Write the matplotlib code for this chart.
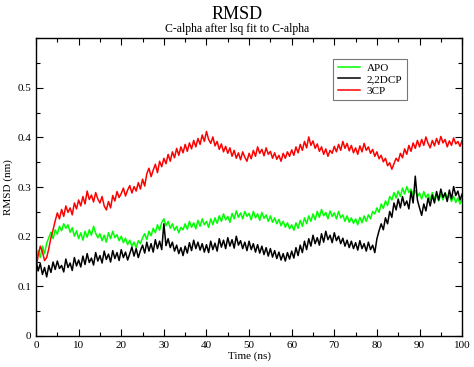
import numpy as np
import matplotlib
matplotlib.use("Agg")
import matplotlib.pyplot as plt
from matplotlib.ticker import MultipleLocator

# time axis, one sample every 0.5 ns
time_ns = np.arange(0, 100.5, 0.5)

# 3CP
rmsd_3cp = [
    0.138, 0.162, 0.181, 0.170, 0.152, 0.158, 0.176, 0.198, 0.214, 0.232,
    0.248, 0.236, 0.255, 0.241, 0.262, 0.249, 0.258, 0.244, 0.268, 0.256,
    0.274, 0.262, 0.281, 0.266, 0.292, 0.275, 0.284, 0.270, 0.289, 0.276,
    0.268, 0.281, 0.262, 0.254, 0.271, 0.258, 0.283, 0.272, 0.291, 0.279,
    0.287, 0.298, 0.282, 0.294, 0.303, 0.288, 0.301, 0.292, 0.309, 0.296,
    0.316, 0.302, 0.327, 0.338, 0.321, 0.334, 0.346, 0.329, 0.352, 0.341,
    0.358, 0.347, 0.366, 0.352, 0.371, 0.359, 0.378, 0.364, 0.381, 0.369,
    0.386, 0.372, 0.389, 0.377, 0.394, 0.381, 0.398, 0.386, 0.405, 0.392,
    0.412, 0.396, 0.388, 0.401, 0.383, 0.392, 0.376, 0.387, 0.371, 0.382,
    0.368, 0.379, 0.362, 0.374, 0.358, 0.369, 0.355, 0.371, 0.360, 0.352,
    0.368, 0.357, 0.374, 0.362, 0.381, 0.368, 0.376, 0.363, 0.379, 0.366,
    0.372, 0.358, 0.369, 0.356, 0.364, 0.352, 0.368, 0.358, 0.371, 0.362,
    0.375, 0.364, 0.381, 0.369, 0.386, 0.374, 0.392, 0.379, 0.401, 0.384,
    0.393, 0.378, 0.387, 0.372, 0.381, 0.366, 0.377, 0.362, 0.374, 0.368,
    0.382, 0.371, 0.386, 0.374, 0.392, 0.378, 0.388, 0.373, 0.384, 0.369,
    0.379, 0.366, 0.383, 0.371, 0.388, 0.374, 0.381, 0.368, 0.376, 0.362,
    0.371, 0.357, 0.364, 0.351, 0.358, 0.343, 0.349, 0.336, 0.347, 0.358,
    0.352, 0.368, 0.359, 0.377, 0.366, 0.384, 0.372, 0.389, 0.378, 0.394,
    0.381, 0.396, 0.384, 0.401, 0.388, 0.379, 0.394, 0.383, 0.398, 0.386,
    0.402, 0.389, 0.396, 0.381, 0.393, 0.384, 0.399, 0.387, 0.392, 0.382,
    0.394,
]

# APO
rmsd_apo = [
    0.148, 0.172, 0.158, 0.181, 0.166, 0.187, 0.198, 0.209, 0.196, 0.214,
    0.205, 0.221, 0.212, 0.226, 0.217, 0.224, 0.209, 0.218, 0.201, 0.212,
    0.196, 0.208, 0.193, 0.211, 0.199, 0.214, 0.203, 0.221, 0.207, 0.198,
    0.206, 0.192, 0.203, 0.189, 0.208, 0.196, 0.211, 0.198, 0.204, 0.192,
    0.201, 0.188, 0.197, 0.184, 0.193, 0.181, 0.189, 0.178, 0.192, 0.186,
    0.198, 0.206, 0.194, 0.211, 0.202, 0.217, 0.208, 0.224, 0.213, 0.229,
    0.236, 0.222, 0.231, 0.217, 0.226, 0.213, 0.221, 0.208, 0.219, 0.214,
    0.226, 0.215, 0.231, 0.219, 0.228, 0.216, 0.233, 0.221, 0.236, 0.224,
    0.231, 0.219, 0.236, 0.224, 0.238, 0.227, 0.242, 0.231, 0.246, 0.234,
    0.241, 0.229, 0.247, 0.236, 0.252, 0.239, 0.248, 0.236, 0.251, 0.241,
    0.247, 0.234, 0.251, 0.238, 0.246, 0.233, 0.249, 0.237, 0.244, 0.231,
    0.242, 0.229, 0.238, 0.226, 0.235, 0.222, 0.231, 0.219, 0.228, 0.216,
    0.224, 0.213, 0.228, 0.217, 0.233, 0.221, 0.238, 0.226, 0.242, 0.231,
    0.246, 0.234, 0.251, 0.239, 0.255, 0.242, 0.249, 0.236, 0.252, 0.241,
    0.248, 0.236, 0.251, 0.238, 0.244, 0.231, 0.242, 0.229, 0.238, 0.227,
    0.236, 0.224, 0.239, 0.228, 0.242, 0.231, 0.244, 0.236, 0.251, 0.246,
    0.258, 0.249, 0.266, 0.257, 0.272, 0.263, 0.281, 0.274, 0.289, 0.278,
    0.292, 0.281, 0.298, 0.286, 0.301, 0.289, 0.296, 0.284, 0.293, 0.281,
    0.288, 0.276, 0.291, 0.279, 0.286, 0.274, 0.289, 0.277, 0.283, 0.272,
    0.286, 0.274, 0.289, 0.278, 0.284, 0.271, 0.282, 0.269, 0.278, 0.266,
    0.276,
]

# 2,2DCP
rmsd_dcp = [
    0.152, 0.131, 0.146, 0.124, 0.138, 0.119, 0.142, 0.128, 0.149, 0.134,
    0.151, 0.136, 0.142, 0.129, 0.155, 0.138, 0.147, 0.132, 0.158, 0.141,
    0.153, 0.139, 0.161, 0.144, 0.166, 0.148, 0.157, 0.143, 0.168, 0.151,
    0.162, 0.147, 0.171, 0.154, 0.165, 0.149, 0.172, 0.156, 0.168, 0.152,
    0.174, 0.158, 0.169, 0.153, 0.166, 0.179, 0.161, 0.176, 0.158, 0.172,
    0.183, 0.167, 0.189, 0.171, 0.186, 0.169, 0.194, 0.176, 0.191, 0.174,
    0.226, 0.182, 0.196, 0.178, 0.189, 0.171, 0.183, 0.166, 0.178, 0.162,
    0.181, 0.167, 0.188, 0.172, 0.193, 0.176, 0.189, 0.173, 0.186, 0.169,
    0.184, 0.168, 0.191, 0.174, 0.187, 0.171, 0.196, 0.179, 0.193, 0.176,
    0.198, 0.181, 0.194, 0.177, 0.201, 0.183, 0.192, 0.176, 0.189, 0.172,
    0.191, 0.174, 0.186, 0.169, 0.184, 0.167, 0.181, 0.164, 0.178, 0.161,
    0.176, 0.159, 0.172, 0.156, 0.169, 0.153, 0.166, 0.151, 0.168, 0.155,
    0.171, 0.157, 0.178, 0.162, 0.183, 0.168, 0.191, 0.174, 0.196, 0.181,
    0.203, 0.186, 0.198, 0.183, 0.206, 0.189, 0.211, 0.194, 0.203, 0.188,
    0.208, 0.192, 0.201, 0.186, 0.197, 0.181, 0.193, 0.178, 0.191, 0.176,
    0.188, 0.173, 0.192, 0.176, 0.186, 0.171, 0.189, 0.174, 0.183, 0.168,
    0.196, 0.212, 0.226, 0.214, 0.238, 0.226, 0.251, 0.239, 0.268, 0.254,
    0.276, 0.258, 0.281, 0.263, 0.272, 0.256, 0.291, 0.268, 0.322, 0.274,
    0.258, 0.243, 0.266, 0.252, 0.278, 0.262, 0.284, 0.268, 0.291, 0.274,
    0.296, 0.279, 0.288, 0.271, 0.294, 0.276, 0.301, 0.283, 0.292, 0.274,
    0.286,
]

plt.rcParams["font.family"] = ["Liberation Serif", "DejaVu Serif"]

fig = plt.figure(figsize=(4.74, 3.67), dpi=100)
ax = fig.add_axes([0.076, 0.0845, 0.899, 0.8115])

ax.plot(time_ns, rmsd_apo, color="#00ff00", lw=1.1, label="APO")
ax.plot(time_ns, rmsd_dcp, color="black", lw=1.1, label="2,2DCP")
ax.plot(time_ns, rmsd_3cp, color="#ff0000", lw=1.1, label="3CP")

ax.set_xlim(0, 100)
ax.set_ylim(0, 0.6)
ax.xaxis.set_major_locator(MultipleLocator(10))
ax.xaxis.set_minor_locator(MultipleLocator(5))
ax.yaxis.set_minor_locator(MultipleLocator(0.05))
ax.set_yticks([0, 0.1, 0.2, 0.3, 0.4, 0.5])
ax.set_yticklabels(["0", "0.1", "0.2", "0.3", "0.4", "0.5"])
ax.tick_params(which="both", direction="in", top=True, right=True,
               labelsize=8, width=0.8)
ax.tick_params(which="major", length=5)
ax.tick_params(which="minor", length=3)
for s in ax.spines.values():
    s.set_linewidth(1.0)

ax.set_xlabel("Time (ns)", fontsize=8, labelpad=1)
ax.set_ylabel("RMSD (nm)", fontsize=8, labelpad=3)

fig.text(0.5, 0.96, "RMSD", ha="center", va="center", fontsize=13)
fig.text(0.5, 0.92, "C-alpha after lsq fit to C-alpha", ha="center",
         va="center", fontsize=8.5)

leg = ax.legend(loc="upper left", bbox_to_anchor=(0.685, 0.95), fontsize=8,
                frameon=True, fancybox=False, handlelength=2.0,
                borderpad=0.4, labelspacing=0.15, handletextpad=0.6)
leg.get_frame().set_edgecolor("#555555")
leg.get_frame().set_linewidth(0.8)

fig.savefig("out.png", dpi=100)
